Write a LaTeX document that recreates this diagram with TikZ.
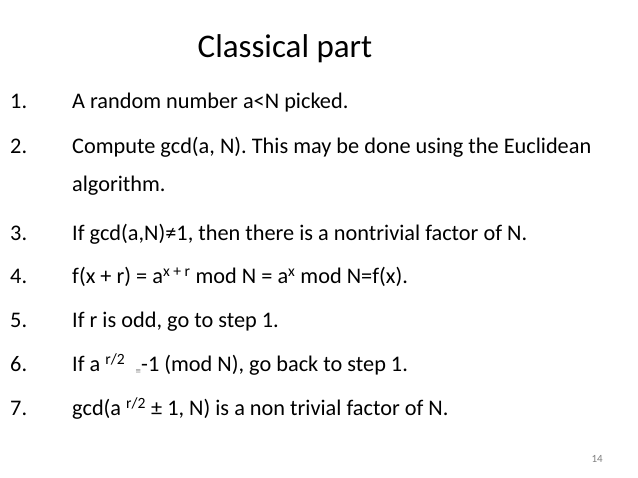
\documentclass[tikz,border=0pt]{standalone}
\usepackage{fontspec}
\setmainfont{Carlito}
\newfontfamily\dejavu{DejaVu Sans}
\begin{document}
\begin{tikzpicture}[x=1pt,y=1pt,
  item/.style={anchor=base west,inner sep=0pt,font=\fontsize{22.3}{26}\selectfont},
  num/.style={anchor=base west,inner sep=0pt,font=\fontsize{22.3}{26}\selectfont}]
\useasboundingbox[fill=white] (0,0) rectangle (638,-478);
\node[anchor=base,inner sep=0pt,font=\fontsize{33}{38}\selectfont] (title) at (285,-58) {Classical part};
\foreach \n/\y in {1/-109,2/-154,3/-241,4/-284,5/-328,6/-372,7/-416}
  \node[num] (n\n) at (10,\y) {\n.};
\node[item] (t1) at (72,-109) {A random number a<N picked.};
\node[item] (t2) at (72,-154) {Compute gcd(a, N). This may be done using the Euclidean};
\node[item] (t2b) at (72,-192) {algorithm.};
\node[item] (t3) at (72,-241) {If gcd(a,N)≠1, then there is a nontrivial factor of N.};
\node[item] (t4) at (72,-284) {f(x + r) = a\textsuperscript{x + r} mod N = a\textsuperscript{x} mod N=f(x).};
\node[item] (t5) at (72,-328) {If r is odd, go to step 1.};
\node[item] (t6) at (72,-372) {If a \textsuperscript{r/2}\ \ {\color{gray}\raisebox{-2pt}{\fontsize{7}{8}\selectfont\dejavu ≡}}-1 (mod N), go back to step 1.};
\node[item] (t7) at (72,-416) {gcd(a \textsuperscript{r/2} ± 1, N) is a non trivial factor of N.};
\node[anchor=base east,inner sep=0pt,font=\fontsize{11}{12}\selectfont,text=gray] (pg) at (603,-463) {14};
\end{tikzpicture}
\end{document}
